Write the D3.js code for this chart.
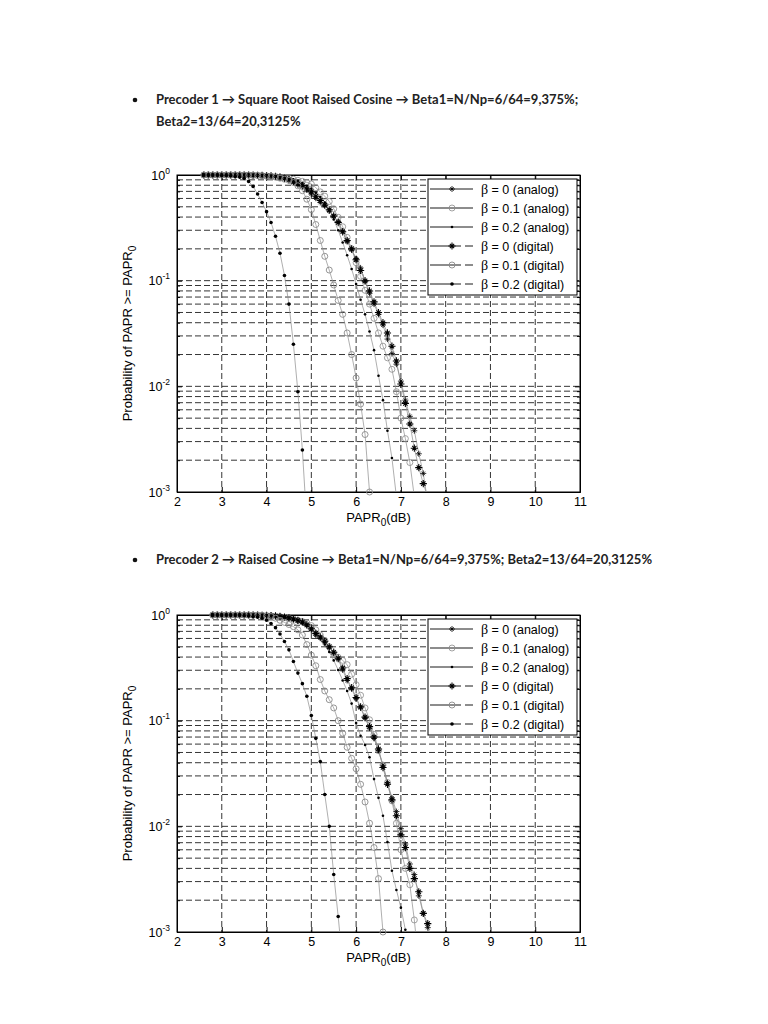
<!DOCTYPE html>
<html lang="en">
<head>
  <meta charset="UTF-8">
  <title>PAPR CCDF</title>
  <script src="https://cdnjs.cloudflare.com/ajax/libs/d3/7.8.5/d3.min.js"></script>
  <style>
    body { margin: 0; background: #fff; }
    svg { display: block; font-family: 'Liberation Sans', Arial, sans-serif; }
    .note { font-family: Lato, 'Open Sans', sans-serif; font-weight: 700; font-size: 13px; fill: #222; }
  </style>
</head>
<body>
  <div id="wrapper"></div>
  <script>
    // PAPR0 grid (dB) for each figure
    const papr1 = [2.6, 2.7, 2.8, 2.9, 3.0, 3.1, 3.2, 3.3, 3.4, 3.5, 3.6, 3.7, 3.8, 3.9, 4.0, 4.1, 4.2, 4.3, 4.4, 4.5,
      4.6, 4.7, 4.8, 4.9, 5.0, 5.1, 5.2, 5.3, 5.4, 5.5, 5.6, 5.7, 5.8, 5.9, 6.0, 6.1, 6.2, 6.3, 6.4, 6.5,
      6.6, 6.7, 6.8, 6.9, 7.0, 7.1, 7.2, 7.3, 7.4, 7.5, 7.6, 7.7]
    const papr2 = [2.8, 2.9, 3.0, 3.1, 3.2, 3.3, 3.4, 3.5, 3.6, 3.7, 3.8, 3.9, 4.0, 4.1, 4.2, 4.3, 4.4, 4.5,
      4.6, 4.7, 4.8, 4.9, 5.0, 5.1, 5.2, 5.3, 5.4, 5.5, 5.6, 5.7, 5.8, 5.9, 6.0, 6.1, 6.2, 6.3, 6.4, 6.5,
      6.6, 6.7, 6.8, 6.9, 7.0, 7.1, 7.2, 7.3, 7.4, 7.5, 7.6, 7.7]

    // Precoder 1 : square root raised cosine (probabilities, starting at papr1[0])
    const srrcB0Analog = [1, 1, 1, 1, 1, 1, 1, 1, 1, 1, 1, 0.998, 0.996, 0.993, 0.989, 0.983, 0.977, 0.962, 0.944, 0.912,
      0.871, 0.832, 0.776, 0.724, 0.661, 0.603, 0.55, 0.513, 0.457, 0.407, 0.363, 0.295, 0.234, 0.195, 0.162, 0.132, 0.098, 0.076, 0.06, 0.048,
      0.038, 0.028, 0.0204, 0.0162, 0.0112, 0.0074, 0.0052, 0.0038, 0.0023, 0.0015, 0.0008]
    const srrcB01Analog = [1, 1, 1, 1, 1, 1, 1, 1, 1, 1, 0.998, 0.996, 0.993, 0.99, 0.977, 0.973, 0.966, 0.955, 0.944, 0.933,
      0.912, 0.891, 0.871, 0.851, 0.822, 0.759, 0.692, 0.631, 0.562, 0.479, 0.398, 0.324, 0.257, 0.2, 0.148, 0.11, 0.081, 0.06, 0.044, 0.032,
      0.024, 0.0186, 0.0145, 0.0089, 0.005, 0.0032, 0.0019, 0.0009]
    const srrcB02Analog = [1, 1, 1, 1, 1, 1, 1, 1, 1, 1, 0.999, 0.999, 0.998, 0.997, 0.993, 0.989, 0.982, 0.973, 0.96, 0.94,
      0.91, 0.88, 0.84, 0.79, 0.74, 0.68, 0.62, 0.55, 0.47, 0.38, 0.3, 0.23, 0.174, 0.129, 0.093, 0.066, 0.048, 0.033, 0.022, 0.0126,
      0.0074, 0.0038, 0.0021, 0.0009]
    const srrcB0Digital = [1, 1, 1, 1, 1, 1, 1, 1, 1, 1, 1, 0.998, 0.995, 0.991, 0.986, 0.979, 0.97, 0.955, 0.93, 0.9,
      0.86, 0.82, 0.794, 0.74, 0.692, 0.63, 0.575, 0.52, 0.468, 0.41, 0.355, 0.29, 0.24, 0.2, 0.158, 0.125, 0.1, 0.08, 0.063, 0.05,
      0.04, 0.032, 0.024, 0.0174, 0.0105, 0.0069, 0.0044, 0.0026, 0.0017, 0.0012, 0.0009]
    const srrcB01Digital = [1, 1, 1, 1, 1, 1, 1, 1, 1, 0.997, 0.995, 0.993, 0.989, 0.984, 0.977, 0.966, 0.955, 0.933, 0.912, 0.89,
      0.85, 0.79, 0.71, 0.59, 0.47, 0.34, 0.24, 0.17, 0.126, 0.091, 0.065, 0.048, 0.032, 0.02, 0.012, 0.0068, 0.0035, 0.001]
    const srrcB02Digital = [1, 1, 0.999, 0.998, 0.996, 0.992, 0.985, 0.97, 0.955, 0.93, 0.87, 0.78, 0.66, 0.55, 0.45, 0.355, 0.263, 0.182, 0.112, 0.06,
      0.025, 0.0089, 0.0025, 0.0005]

    // Precoder 2 : raised cosine (probabilities, starting at papr2[0])
    const rcB0Analog = [1, 1, 1, 1, 1, 1, 1, 1, 1, 1, 0.995, 0.993, 0.989, 0.984, 0.977, 0.966, 0.955, 0.933,
      0.912, 0.881, 0.851, 0.794, 0.724, 0.646, 0.603, 0.55, 0.49, 0.437, 0.38, 0.302, 0.24, 0.2, 0.162, 0.132, 0.105, 0.085, 0.068, 0.052,
      0.038, 0.026, 0.0186, 0.0138, 0.0095, 0.0068, 0.0044, 0.0035, 0.0022, 0.0015, 0.0011, 0.0005]
    const rcB01Analog = [1, 1, 1, 1, 1, 1, 1, 1, 1, 0.999, 0.998, 0.996, 0.989, 0.982, 0.975, 0.966, 0.95, 0.933,
      0.912, 0.891, 0.867, 0.841, 0.794, 0.724, 0.646, 0.575, 0.501, 0.437, 0.398, 0.372, 0.339, 0.275, 0.219, 0.174, 0.132, 0.102, 0.074, 0.052,
      0.038, 0.026, 0.0174, 0.0107, 0.006, 0.004, 0.0028, 0.0013, 0.0005]
    const rcB02Analog = [1, 1, 1, 1, 1, 1, 1, 1, 1, 1, 1, 0.998, 0.989, 0.984, 0.977, 0.966, 0.944, 0.933,
      0.89, 0.871, 0.83, 0.794, 0.741, 0.676, 0.603, 0.525, 0.447, 0.372, 0.302, 0.24, 0.191, 0.145, 0.095, 0.072, 0.059, 0.045, 0.028, 0.0186,
      0.0126, 0.0071, 0.0038, 0.0025, 0.0017, 0.00105, 0.0005]
    const rcB0Digital = [1, 1, 1, 1, 1, 1, 1, 1, 1, 1, 0.996, 0.994, 0.99, 0.985, 0.979, 0.969, 0.957, 0.94,
      0.918, 0.89, 0.86, 0.81, 0.74, 0.67, 0.62, 0.565, 0.5, 0.445, 0.39, 0.315, 0.25, 0.205, 0.166, 0.135, 0.108, 0.088, 0.07, 0.054,
      0.036, 0.025, 0.0178, 0.0126, 0.0083, 0.0063, 0.004, 0.0032, 0.0024, 0.0015, 0.0012, 0.0007]
    const rcB01Digital = [1, 1, 1, 1, 1, 1, 1, 1, 1, 0.996, 0.993, 0.99, 0.977, 0.966, 0.933, 0.891, 0.851, 0.813,
      0.776, 0.724, 0.646, 0.525, 0.417, 0.331, 0.245, 0.191, 0.158, 0.132, 0.1, 0.076, 0.056, 0.044, 0.035, 0.025, 0.017, 0.0107, 0.0063, 0.0032,
      0.001]
    const rcB02Digital = [1, 1, 1, 1, 1, 1, 1, 0.989, 0.977, 0.966, 0.955, 0.933, 0.891, 0.832, 0.759, 0.661, 0.562, 0.468,
      0.363, 0.282, 0.224, 0.17, 0.112, 0.068, 0.041, 0.02, 0.01, 0.0035, 0.0014, 0.0005]

    const seriesLabels = ["0 (analog)", "0.1 (analog)", "0.2 (analog)", "0 (digital)", "0.1 (digital)", "0.2 (digital)"]
    const xTicks = [2, 3, 4, 5, 6, 7, 8, 9, 10, 11]
    const yTicks = [0.001, 0.01, 0.1, 1]
    const yMinor = [0.002, 0.003, 0.004, 0.005, 0.006, 0.007, 0.008, 0.009,
      0.02, 0.03, 0.04, 0.05, 0.06, 0.07, 0.08, 0.09,
      0.2, 0.3, 0.4, 0.5, 0.6, 0.7, 0.8, 0.9]

    const notes1 = ["Precoder 1 \u2192 Square Root Raised Cosine \u2192 Beta1=N/Np=6/64=9,375%;", "Beta2=13/64=20,3125%"]
    const notes2 = ["Precoder 2 \u2192 Raised Cosine \u2192 Beta1=N/Np=6/64=9,375%; Beta2=13/64=20,3125%"]

    const svg = d3.select("#wrapper")
      .append("svg")
        .attr("width", 768)
        .attr("height", 1024)

    // marker styles: star / circle / dot, analog thinner than digital
    const styles = [
      { marker: "star", w: 0.8, r: 3 },
      { marker: "circle", w: 0.8 },
      { marker: "dot", r: 1.3 },
      { marker: "star", w: 1.05, r: 3.6, dashed: true },
      { marker: "circle", w: 0.9, dashed: true },
      { marker: "dot", r: 1.8, dashed: true }
    ]

    const starPath = r => {
      const a = r * 0.6
      return `M${-r},0H${r}M0,${-r}V${r}M${-a},${-a}L${a},${a}M${-a},${a}L${a},${-a}`
    }

    function drawMarker(sel, st, x, y) {
      if (st.marker === "star") {
        sel.append("path").attr("transform", `translate(${x},${y})`)
          .attr("d", starPath(st.r)).attr("stroke", "#000").attr("stroke-width", st.w).attr("fill", "none")
      } else if (st.marker === "circle") {
        sel.append("circle").attr("cx", x).attr("cy", y).attr("r", 3)
          .attr("fill", "none").attr("stroke", "#8a8a8a").attr("stroke-width", st.w)
      } else {
        sel.append("circle").attr("cx", x).attr("cy", y).attr("r", st.r).attr("fill", "#000")
      }
    }

    function drawNotes(lines, y0) {
      svg.append("circle").attr("cx", 135).attr("cy", y0 - 4).attr("r", 2.3).attr("fill", "#111")
      lines.forEach((t, i) => {
        svg.append("text").attr("class", "note")
          .attr("x", 156).attr("y", y0 + i * 22)
          .text(t)
      })
    }

    function drawChart(cfg, papr, series, id) {
      const xScale = d3.scaleLinear().domain([2, 11]).range([cfg.left, cfg.right])
      const yScale = d3.scaleLog().domain([0.001, 1]).range([cfg.bottom, cfg.top])
      const g = svg.append("g")

      // grid
      g.selectAll(".vgrid").data(xTicks.slice(1, -1)).join("line")
        .attr("x1", d => xScale(d)).attr("x2", d => xScale(d))
        .attr("y1", cfg.top).attr("y2", cfg.bottom)
        .attr("stroke", "#000").attr("stroke-width", 0.8).attr("stroke-dasharray", "6,3")
      g.selectAll(".hgrid").data(yMinor.concat([0.01, 0.1])).join("line")
        .attr("x1", cfg.left).attr("x2", cfg.right)
        .attr("y1", d => yScale(d)).attr("y2", d => yScale(d))
        .attr("stroke", "#000").attr("stroke-width", 0.8).attr("stroke-dasharray", "6,3")

      // axes with inward ticks
      const xAxis = g.append("g").attr("transform", `translate(0,${cfg.bottom})`)
        .call(d3.axisBottom(xScale).tickValues(xTicks).tickSize(-5).tickSizeOuter(0).tickPadding(5))
      g.append("g").attr("transform", `translate(0,${cfg.top})`)
        .call(d3.axisTop(xScale).tickValues(xTicks).tickSize(-5).tickSizeOuter(0).tickFormat(""))
      const yAxis = g.append("g").attr("transform", `translate(${cfg.left},0)`)
        .call(d3.axisLeft(yScale).tickValues(yTicks).tickSize(-5).tickSizeOuter(0).tickPadding(7).tickFormat(() => "10"))
      g.append("g").attr("transform", `translate(${cfg.left},0)`)
        .call(d3.axisLeft(yScale).tickValues(yMinor).tickSize(-3).tickSizeOuter(0).tickFormat(""))
      g.append("g").attr("transform", `translate(${cfg.right},0)`)
        .call(d3.axisRight(yScale).tickValues(yTicks).tickSize(-5).tickSizeOuter(0).tickFormat(""))
      g.append("g").attr("transform", `translate(${cfg.right},0)`)
        .call(d3.axisRight(yScale).tickValues(yMinor).tickSize(-3).tickSizeOuter(0).tickFormat(""))

      g.selectAll(".domain").attr("stroke", "#000")
      g.selectAll(".tick line").attr("stroke", "#000")
      xAxis.selectAll("text").attr("font-size", 12.5).attr("fill", "#000").attr("font-family", "'Liberation Sans', Arial, sans-serif")
      yAxis.selectAll("text").attr("font-size", 12.5).attr("fill", "#000").attr("font-family", "'Liberation Sans', Arial, sans-serif")
        .each(function (d) {
          d3.select(this).append("tspan").attr("dy", -6).attr("font-size", 8.5)
            .text(Math.round(Math.log10(d)))
        })

      // box
      g.append("rect").attr("x", cfg.left).attr("y", cfg.top)
        .attr("width", cfg.right - cfg.left).attr("height", cfg.bottom - cfg.top)
        .attr("fill", "none").attr("stroke", "#000").attr("stroke-width", 1)

      // curves
      g.append("clipPath").attr("id", id)
        .append("rect").attr("x", cfg.left).attr("y", cfg.top - 10)
        .attr("width", cfg.right - cfg.left).attr("height", cfg.bottom - cfg.top + 10)

      const line = d3.line().x(d => xScale(d.x)).y(d => yScale(d.p))
      const curves = g.append("g").attr("clip-path", `url(#${id})`)
      series.forEach((vals, k) => {
        const pts = vals.map((p, i) => ({ x: papr[i], p: p }))
        curves.append("path").datum(pts)
          .attr("d", line)
          .attr("fill", "none").attr("stroke", "#8c8c8c").attr("stroke-width", 0.7)
        const st = styles[k]
        pts.filter(d => d.p >= 0.001).forEach(d => drawMarker(g, st, xScale(d.x), yScale(d.p)))
      })

      // legend
      const lx = cfg.right - 152, ly = cfg.top + 4
      const legend = g.append("g")
      legend.append("rect").attr("x", lx).attr("y", ly).attr("width", 149).attr("height", 116)
        .attr("fill", "#fff").attr("stroke", "#000").attr("stroke-width", 1)
      seriesLabels.forEach((lab, i) => {
        const y = ly + 10 + i * 19
        const st = styles[i]
        legend.append("line").attr("x1", lx + 2).attr("x2", lx + 45).attr("y1", y).attr("y2", y)
          .attr("stroke", "#000").attr("stroke-width", 0.9)
          .attr("stroke-dasharray", st.dashed ? "31,4,8,100" : null)
        drawMarker(legend, st, lx + 24, y)
        const t = legend.append("text").attr("x", lx + 53).attr("y", y + 4.5).attr("font-size", 12.5).attr("fill", "#000")
        t.append("tspan").attr("font-family", "'Liberation Serif', 'Times New Roman', serif").attr("font-size", 14).text("\u03b2")
        t.append("tspan").text(" = " + lab)
      })

      // axis titles
      const xt = g.append("text").attr("x", (cfg.left + cfg.right) / 2).attr("y", cfg.bottom + 30)
        .attr("text-anchor", "middle").attr("font-size", 13).attr("fill", "#000")
      xt.append("tspan").text("PAPR")
      xt.append("tspan").attr("dy", 4).attr("font-size", 10).text("0")
      xt.append("tspan").attr("dy", -4).text("(dB)")

      const yt = g.append("text")
        .attr("transform", `translate(${cfg.left - 45},${(cfg.top + cfg.bottom) / 2}) rotate(-90)`)
        .attr("text-anchor", "middle").attr("font-size", 13).attr("fill", "#000")
      yt.append("tspan").text("Probability of PAPR >= PAPR")
      yt.append("tspan").attr("dy", 4).attr("font-size", 10).text("0")
    }

    drawNotes(notes1, 104)
    drawChart({ left: 177, right: 580, top: 175, bottom: 492 }, papr1,
      [srrcB0Analog, srrcB01Analog, srrcB02Analog, srrcB0Digital, srrcB01Digital, srrcB02Digital], "clip1")

    drawNotes(notes2, 564)
    drawChart({ left: 177, right: 580, top: 615, bottom: 932 }, papr2,
      [rcB0Analog, rcB01Analog, rcB02Analog, rcB0Digital, rcB01Digital, rcB02Digital], "clip2")
  </script>
</body>
</html>
